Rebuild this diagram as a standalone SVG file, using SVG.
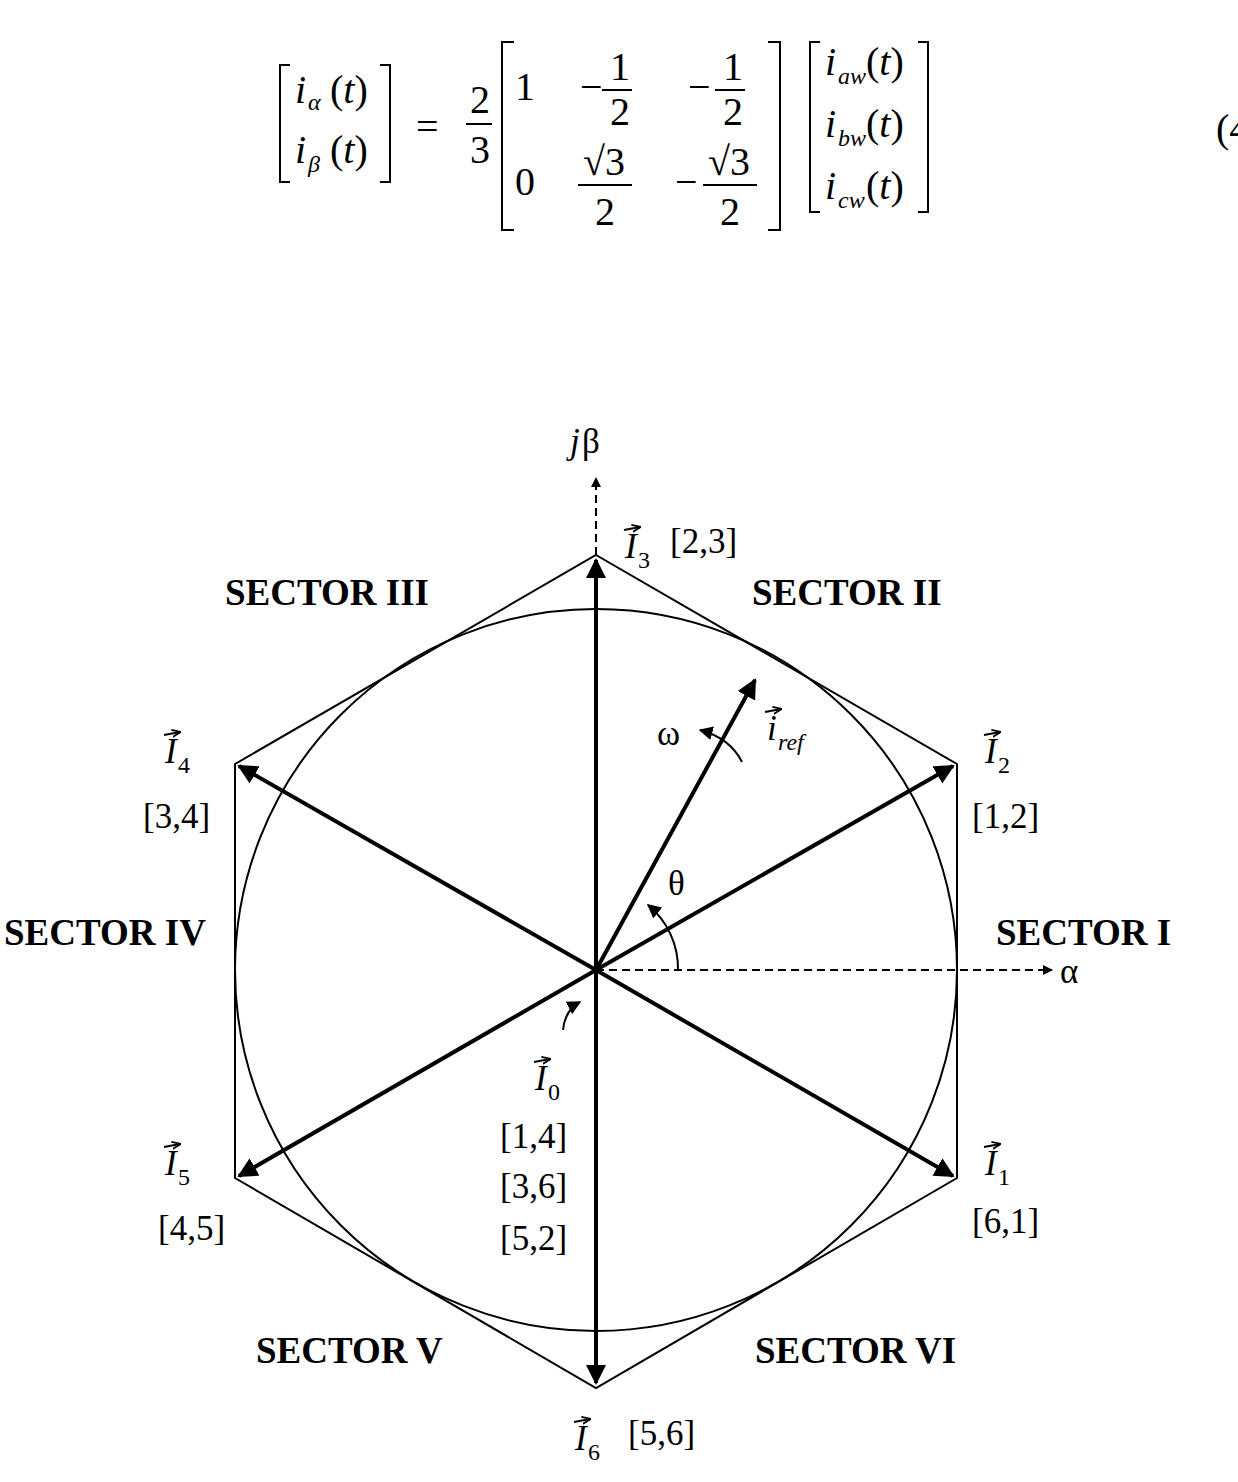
<svg xmlns="http://www.w3.org/2000/svg" width="1238" height="1482" viewBox="0 0 1238 1482">
<style>
text{font-family:"Liberation Serif","Times New Roman",serif;fill:#000}
.l{font-size:35px}
.s{font-size:37px;font-weight:bold}
.it{font-style:italic}
.sub{font-size:24px}
.eq{font-size:40px}
.th{stroke:#000;stroke-width:4;fill:none}
.tn{stroke:#000;stroke-width:2;fill:none}
.ds{stroke:#000;stroke-width:2;fill:none;stroke-dasharray:8 5}
.va{stroke:#000;stroke-width:1.8;fill:none}
</style>
<defs>
<marker id="ah" viewBox="0 0 10 10" refX="9" refY="5" markerWidth="5" markerHeight="5" orient="auto-start-reverse" markerUnits="strokeWidth"><path d="M0,0 L10,5 L0,10 Z" fill="#000"/></marker>
<marker id="ah2" viewBox="0 0 10 10" refX="9" refY="5" markerWidth="7" markerHeight="7" orient="auto-start-reverse" markerUnits="strokeWidth"><path d="M0,0 L10,5 L0,10 Z" fill="#000"/></marker>
<marker id="vh" viewBox="0 0 10 10" refX="9" refY="5" markerWidth="5" markerHeight="5" orient="auto" markerUnits="strokeWidth"><path d="M0,1 L10,5 L0,9" fill="none" stroke="#000" stroke-width="2"/></marker>
</defs>
<rect width="1238" height="1482" fill="#fff"/>
<g id="equation">
<path class="tn" d="M290,65 H280 V182 H290 M380,65 H390 V182 H380"/>
<text class="eq it" x="295" y="103">i</text><text class="sub it" x="308" y="110">α</text><text class="eq" x="330" y="103">(<tspan class="it">t</tspan>)</text>
<text class="eq it" x="295" y="163">i</text><text class="sub it" x="308" y="172">β</text><text class="eq" x="330" y="163">(<tspan class="it">t</tspan>)</text>
<text class="eq" x="416" y="140">=</text>
<text class="eq" x="470" y="113">2</text><line class="tn" x1="466" y1="124" x2="492" y2="124"/><text class="eq" x="470" y="163">3</text>
<path class="tn" d="M514,42 H502 V230 H514 M768,42 H780 V230 H768"/>
<text class="eq" x="515" y="100">1</text>
<text class="eq" x="580" y="100">−</text><text class="eq" x="610" y="80">1</text><line class="tn" x1="602" y1="90" x2="632" y2="90"/><text class="eq" x="610" y="125">2</text>
<text class="eq" x="688" y="100">−</text><text class="eq" x="723" y="80">1</text><line class="tn" x1="715" y1="90" x2="745" y2="90"/><text class="eq" x="723" y="125">2</text>
<text class="eq" x="515" y="195">0</text>
<text class="eq" x="583" y="175">√3</text><line class="tn" x1="578" y1="185" x2="632" y2="185"/><text class="eq" x="595" y="225">2</text>
<text class="eq" x="675" y="195">−</text><text class="eq" x="708" y="175">√3</text><line class="tn" x1="703" y1="185" x2="757" y2="185"/><text class="eq" x="720" y="225">2</text>
<path class="tn" d="M820,42 H810 V212 H820 M918,42 H928 V212 H918"/>
<text class="eq it" x="825" y="75">i</text><text class="sub it" x="838" y="84">aw</text><text class="eq" x="866" y="75">(<tspan class="it">t</tspan>)</text>
<text class="eq it" x="825" y="137">i</text><text class="sub it" x="838" y="146">bw</text><text class="eq" x="866" y="137">(<tspan class="it">t</tspan>)</text>
<text class="eq it" x="825" y="199">i</text><text class="sub it" x="838" y="208">cw</text><text class="eq" x="866" y="199">(<tspan class="it">t</tspan>)</text>
<text class="eq" x="1216" y="142">(4</text>
</g>
<g id="hexagon"><path class="tn" d="M596,555 L957,764 L957,1178 L596,1388 L235,1178 L235,764 Z"/><circle class="tn" cx="596" cy="970" r="361"/></g>
<g id="connectors">
<line class="ds" x1="596" y1="555" x2="596" y2="478" marker-end="url(#ah)"/>
<line class="ds" x1="596" y1="970" x2="1052" y2="970" marker-end="url(#ah)"/>
<line class="th" x1="596" y1="560" x2="596" y2="1383" marker-start="url(#ah)" marker-end="url(#ah)"/>
<line class="th" x1="596" y1="970" x2="953" y2="766" marker-end="url(#ah)"/>
<line class="th" x1="596" y1="970" x2="953" y2="1176" marker-end="url(#ah)"/>
<line class="th" x1="596" y1="970" x2="239" y2="766" marker-end="url(#ah)"/>
<line class="th" x1="596" y1="970" x2="239" y2="1176" marker-end="url(#ah)"/>
<line class="th" x1="596" y1="970" x2="755" y2="680" marker-end="url(#ah)"/>
<path class="tn" d="M678,970 A82,82 0 0 0 648,905" marker-end="url(#ah2)"/>
<path class="tn" d="M742,762 Q730,738 700,730" marker-end="url(#ah2)"/>
<path class="tn" d="M563,1030 Q565,1010 580,1002" marker-end="url(#ah2)"/>
</g>
<g id="labels">
<text class="l it" x="570" y="453">j</text><text class="l" x="582" y="453">β</text>
<text class="l" x="1060" y="983">α</text>
<g id="I3"><text class="l it" x="625" y="558">I</text><text class="sub" x="638" y="568">3</text><line class="va" x1="624" y1="530" x2="640" y2="527" marker-end="url(#vh)"/><text class="l" x="670" y="553">[2,3]</text></g>
<g id="I2"><text class="l it" x="985" y="763">I</text><text class="sub" x="998" y="773">2</text><line class="va" x1="984" y1="735" x2="1000" y2="732" marker-end="url(#vh)"/><text class="l" x="972" y="828">[1,2]</text></g>
<g id="I4"><text class="l it" x="165" y="763">I</text><text class="sub" x="178" y="773">4</text><line class="va" x1="164" y1="735" x2="180" y2="732" marker-end="url(#vh)"/><text class="l" x="143" y="828">[3,4]</text></g>
<g id="I1"><text class="l it" x="985" y="1175">I</text><text class="sub" x="998" y="1185">1</text><line class="va" x1="984" y1="1147" x2="1000" y2="1144" marker-end="url(#vh)"/><text class="l" x="972" y="1233">[6,1]</text></g>
<g id="I5"><text class="l it" x="165" y="1175">I</text><text class="sub" x="178" y="1185">5</text><line class="va" x1="164" y1="1147" x2="180" y2="1144" marker-end="url(#vh)"/><text class="l" x="158" y="1240">[4,5]</text></g>
<g id="I6"><text class="l it" x="575" y="1450">I</text><text class="sub" x="588" y="1460">6</text><line class="va" x1="574" y1="1422" x2="590" y2="1419" marker-end="url(#vh)"/><text class="l" x="628" y="1445">[5,6]</text></g>
<g id="I0"><text class="l it" x="535" y="1090">I</text><text class="sub" x="548" y="1100">0</text><line class="va" x1="534" y1="1062" x2="550" y2="1059" marker-end="url(#vh)"/>
<text class="l" x="500" y="1148">[1,4]</text><text class="l" x="500" y="1198">[3,6]</text><text class="l" x="500" y="1250">[5,2]</text></g>
<g id="iref"><text class="l it" x="767" y="740">i</text><text class="sub it" x="778" y="750">ref</text><line class="va" x1="765" y1="712" x2="781" y2="709" marker-end="url(#vh)"/></g>
<text class="l" x="657" y="745">ω</text>
<text class="l" x="668" y="895">θ</text>
<text class="s" x="225" y="605">SECTOR III</text>
<text class="s" x="752" y="605">SECTOR II</text>
<text class="s" x="4" y="945">SECTOR IV</text>
<text class="s" x="996" y="945">SECTOR I</text>
<text class="s" x="256" y="1363">SECTOR V</text>
<text class="s" x="755" y="1363">SECTOR VI</text>
</g>
</svg>
